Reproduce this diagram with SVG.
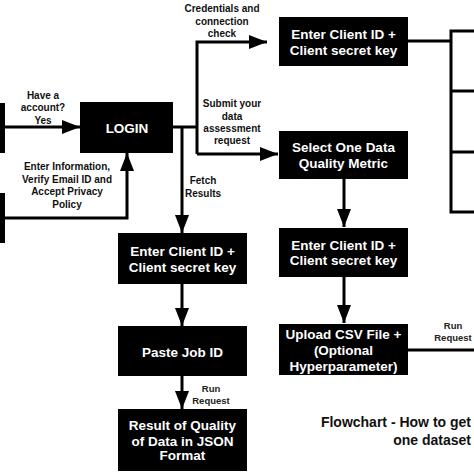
<svg xmlns="http://www.w3.org/2000/svg" width="474" height="474" viewBox="0 0 474 474">
<defs>
<marker id="ah" markerUnits="userSpaceOnUse" markerWidth="18" markerHeight="14" refX="18" refY="7" orient="auto"><path d="M0,0 L18,7 L0,14 z" fill="#000"/></marker>
<style>
.box{fill:#000}
.bt{fill:#fff;font-family:"Liberation Sans",Arial,sans-serif;font-weight:bold;font-size:13.5px;text-anchor:middle}
.lb{fill:#111;font-family:"Liberation Sans",Arial,sans-serif;font-weight:bold;font-size:10px;text-anchor:middle}
.sm{fill:#222;font-family:"Liberation Sans",Arial,sans-serif;font-weight:bold;font-size:9.5px;text-anchor:middle}
.ln{fill:none;stroke:#000;stroke-width:3}
.ar{fill:none;stroke:#000;stroke-width:3;marker-end:url(#ah)}
.tt{fill:#111;font-family:"Liberation Sans",Arial,sans-serif;font-weight:bold;font-size:14px;text-anchor:end}
</style>
</defs>
<rect width="474" height="474" fill="#fff"/>
<g id="connectors">
<path class="ar" d="M5,127 H80"/>
<path class="ar" d="M5,218 H127 V153"/>
<path class="ln" d="M173,127 H197"/>
<path class="ar" d="M197,154 V42 H267"/>
<path class="ar" d="M197,154 H278"/>
<path class="ar" d="M182,127 V233"/>
<path class="ln" d="M408,41 H451"/>
<path class="ln" d="M476,31 H451 V212 H476"/>
<path class="ln" d="M451,91 H476 M451,152 H476"/>
<path class="ar" d="M344,179 V227"/>
<path class="ar" d="M344,277 V323"/>
<path class="ln" d="M408,350 H476"/>
<path class="ar" d="M182,284 V326"/>
<path class="ar" d="M182,376 V409"/>
</g>
<g id="labels">
<text class="lb" x="43" y="99">Have a</text>
<text class="lb" x="43" y="111">account?</text>
<text class="lb" x="43" y="124">Yes</text>
<text class="lb" x="67" y="170">Enter Information,</text>
<text class="lb" x="67" y="183">Verify Email ID and</text>
<text class="lb" x="67" y="195">Accept Privacy</text>
<text class="lb" x="67" y="208">Policy</text>
<text class="lb" x="222" y="12">Credentials and</text>
<text class="lb" x="222" y="25">connection</text>
<text class="lb" x="222" y="37">check</text>
<text class="lb" x="232" y="107">Submit your</text>
<text class="lb" x="232" y="120">data</text>
<text class="lb" x="232" y="132">assessment</text>
<text class="lb" x="232" y="144">request</text>
<text class="lb" x="203" y="184">Fetch</text>
<text class="lb" x="203" y="197">Results</text>
<text class="sm" x="211" y="392">Run</text>
<text class="sm" x="211" y="404">Request</text>
<text class="sm" x="453" y="329">Run</text>
<text class="sm" x="453" y="341">Request</text>
</g>
<g id="left1"><rect class="box" x="-5" y="103" width="10" height="50"/></g>
<g id="left2"><rect class="box" x="-5" y="193" width="10" height="50"/></g>
<g id="login"><rect class="box" x="80" y="102" width="93" height="51"/><text class="bt" x="127" y="132.5">LOGIN</text></g>
<g id="enter-top"><rect class="box" x="279" y="17" width="129" height="49"/><text class="bt" x="343.5" y="38.5">Enter Client ID +</text><text class="bt" x="343.5" y="54.5">Client secret key</text></g>
<g id="select"><rect class="box" x="279" y="131" width="129" height="48"/><text class="bt" x="343.5" y="151.5">Select One Data</text><text class="bt" x="343.5" y="167.5">Quality Metric</text></g>
<g id="enter-mid"><rect class="box" x="279" y="228" width="129" height="49"/><text class="bt" x="343.5" y="249.5">Enter Client ID +</text><text class="bt" x="343.5" y="264.5">Client secret key</text></g>
<g id="upload"><rect class="box" x="279" y="324" width="129" height="51"/><text class="bt" x="343.5" y="338.5">Upload CSV File +</text><text class="bt" x="343.5" y="354.5">(Optional</text><text class="bt" x="343.5" y="370.5">Hyperparameter)</text></g>
<g id="enter-left"><rect class="box" x="118" y="233" width="129" height="51"/><text class="bt" x="182.5" y="255.5">Enter Client ID +</text><text class="bt" x="182.5" y="271.5">Client secret key</text></g>
<g id="paste"><rect class="box" x="118" y="326" width="129" height="50"/><text class="bt" x="182.5" y="356.5">Paste Job ID</text></g>
<g id="result"><rect class="box" x="118" y="409" width="129" height="62"/><text class="bt" x="182.5" y="430">Result of Quality</text><text class="bt" x="182.5" y="445.5">of Data in JSON</text><text class="bt" x="182.5" y="460">Format</text></g>
<g id="title"><text class="tt" x="471" y="427">Flowchart - How to get</text><text class="tt" x="471" y="445">one dataset</text></g>
</svg>
